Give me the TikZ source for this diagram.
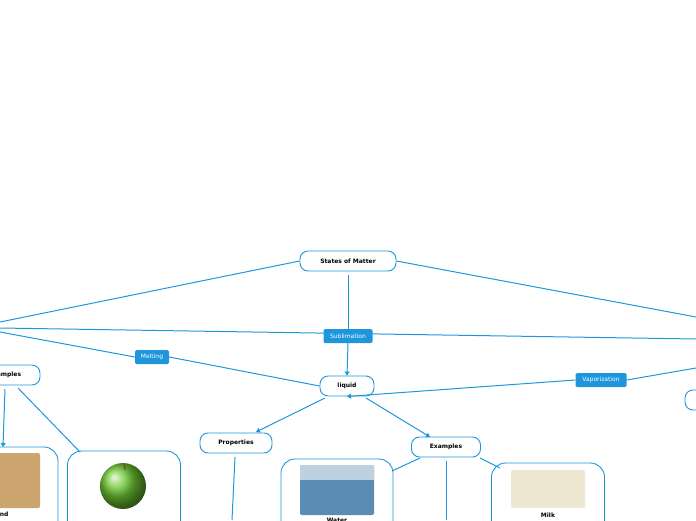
\documentclass[tikz,border=0pt]{standalone}
\usepackage{fontspec}
\setmainfont{DejaVu Sans}
\usetikzlibrary{arrows.meta}
\definecolor{mblue}{RGB}{30,150,220}
\definecolor{sand}{RGB}{205,165,110}
\definecolor{water}{RGB}{90,140,180}
\definecolor{milk}{RGB}{238,232,210}
\definecolor{apple}{RGB}{110,200,50}
\tikzset{
 topic/.style={draw=mblue,line width=0.9pt,rounded corners=8pt,fill=white,font=\bfseries\fontsize{6}{7}\selectfont,inner sep=0pt},
 lab/.style={fill=mblue,rounded corners=1.5pt,text=white,font=\fontsize{6}{7}\selectfont,inner sep=0pt},
 picbox/.style={draw=mblue,line width=0.9pt,rounded corners=14pt,fill=white,inner sep=0pt},
 con/.style={mblue,line width=1pt},
 arr/.style={con,-{Triangle[width=5pt,length=4pt]}}
}
\begin{document}
\begin{tikzpicture}[x=1pt,y=-1pt]
\useasboundingbox (0,0) rectangle (696,520);
\clip (0,0) rectangle (696,520);
% nodes
\node[topic,minimum width=96pt,minimum height=20pt] (som) at (348,261) {States of Matter};
\node[topic,minimum width=54pt,minimum height=20pt] (liq) at (347,386) {liquid};
\node[topic,minimum width=72pt,minimum height=20pt] (prop) at (236,443) {Properties};
\node[topic,minimum width=69pt,minimum height=20pt] (ex) at (446,447) {Examples};
\node[topic,minimum width=70pt,minimum height=20pt] (exl) at (5,375) {Examples};
\node[topic,minimum width=30pt,minimum height=20pt] (rn) at (700,400) {};
\coordinate (solidA) at (0,322);
\coordinate (solidB) at (0,328);
\coordinate (solidC) at (0,332);
\coordinate (gasA) at (696,317);
\coordinate (gasB) at (696,339);
\coordinate (gasC) at (696,368);
% picture boxes
\node[picbox,minimum width=112pt,minimum height=80pt] (wat) at (337,499) {};
\node[picbox,minimum width=113pt,minimum height=80pt] (mil) at (548,503) {};
\node[picbox,minimum width=80pt,minimum height=90pt] (san) at (18,492) {};
\node[picbox,minimum width=113pt,minimum height=90pt] (app) at (124,496) {};
\fill[water,rounded corners=2pt] (300,465) rectangle (374,515);
\fill[white!60!water] (300,465) rectangle (374,480);
\fill[milk,rounded corners=2pt] (511,470) rectangle (585,508);
\fill[sand,rounded corners=2pt] (-20,453) rectangle (40,508);
\shade[ball color=apple] (123,486) circle (23);
\draw[brown!60!black,line width=1.2pt] (124,464) -- (125,470);
\node[font=\bfseries\fontsize{6}{7}\selectfont] (wt) at (337,520) {Water};
\node[font=\bfseries\fontsize{6}{7}\selectfont] (mt) at (548,515) {Milk};
\node[font=\bfseries\fontsize{6}{7}\selectfont] (st) at (0,514) {Sand};
% connectors
\draw[con] (som.west) -- (solidA);
\draw[con] (som.east) -- (gasA);
\draw[con] (solidB) -- (gasB);
\node[lab,minimum width=49pt,minimum height=14pt] (sub) at (348,336) {Sublimation};
\draw[con] (som.south) ++(0,4) -- (sub.north);
\draw[arr] (sub.south) -- (liq.north);
\node[lab,minimum width=34pt,minimum height=14pt] (mel) at (152,357) {Melting};
\draw[con] (solidC) -- (mel.west);
\draw[con] (mel.east) -- (liq.west);
\node[lab,minimum width=51pt,minimum height=14pt] (vap) at (601,380) {Vaporization};
\draw[con] (gasC) -- (vap.east);
\draw[arr] (vap.west) -- (liq.south);
\draw[arr] (325,398) -- (256,432);
\draw[arr] (366,398) -- (430,437);
\draw[con] (235,457) -- (232,520);
\draw[con] (446,461) -- (446,520);
\draw[con] (420,458) -- (392,471);
\draw[con] (480,458) -- (500,468);
\draw[arr] (5,389) -- (3,447);
\draw[con] (18,388) -- (80,452);
\end{tikzpicture}
\end{document}
